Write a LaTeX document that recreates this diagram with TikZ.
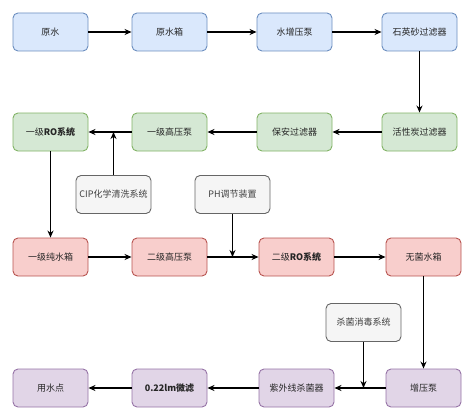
\documentclass[tikz,border=0pt]{standalone}
\usepackage{fontspec}
\setmainfont{Noto Sans CJK SC}
\usepackage{xcolor}
\usetikzlibrary{arrows.meta,positioning}
\definecolor{bluefill}{HTML}{DAE8FC}
\definecolor{bluedraw}{HTML}{6C8EBF}
\definecolor{greenfill}{HTML}{D5E8D4}
\definecolor{greendraw}{HTML}{82B366}
\definecolor{redfill}{HTML}{F8CECC}
\definecolor{reddraw}{HTML}{B85450}
\definecolor{purplefill}{HTML}{E1D5E7}
\definecolor{purpledraw}{HTML}{9673A6}
\definecolor{greyfill}{HTML}{F5F5F5}
\definecolor{greydraw}{HTML}{666666}
\tikzset{%
	process/.style   = {draw, rectangle, rounded corners=5pt, minimum width=75pt, minimum height=38pt, line width=0.9pt, text centered, text=black!85, font=\fontsize{9}{10}\selectfont},
	bluebox/.style   = {process, fill=bluefill, draw=bluedraw},
	greenbox/.style  = {process, fill=greenfill, draw=greendraw},
	redbox/.style    = {process, fill=redfill, draw=reddraw},
	purplebox/.style = {process, fill=purplefill, draw=purpledraw},
	greybox/.style   = {process, fill=greyfill, draw=greydraw, text=black!75},
	arrow/.style     = {line width=1.2pt, -{Stealth[length=7pt,width=6pt]}},
}
\begin{document}
\begin{tikzpicture}[node distance=125pt]
	\useasboundingbox (0,0) rectangle (474pt,-420pt);
	% pretreatment
	\node [bluebox] (ys) at (50.5pt,-32pt) {原水};
	\node [bluebox] (ysx) [right of=ys, node distance=119pt] {原水箱};
	\node [bluebox] (zyb) [right of=ysx] {水增压泵};
	\node [bluebox] (sys) [right of=zyb] {石英砂过滤器};
	\node [greenbox] (hxt) [below of=sys, node distance=100pt] {活性炭过滤器};
	\node [greenbox] (ba) [left of=hxt] {保安过滤器};
	\node [greenbox] (gyb1) [left of=ba] {一级高压泵};
	\node [greenbox] (ro1) [left of=gyb1, node distance=119pt] {一级\textbf{RO系统}};
	% second stage
	\node [redbox] (csx) [below of=ro1, node distance=125pt] {一级纯水箱};
	\node [redbox] (gyb2) [right of=csx, node distance=119pt] {二级高压泵};
	\node [redbox] (ro2) [right of=gyb2, node distance=127pt] {二级\textbf{RO系统}};
	\node [redbox] (wjx) [right of=ro2, node distance=127pt] {无菌水箱};
	\node [purplebox] (zy) [below of=wjx, node distance=131pt] {增压泵};
	\node [purplebox] (zwx) [left of=zy, node distance=127pt] {紫外线杀菌器};
	\node [purplebox] (wl) [left of=zwx, node distance=127pt] {\textbf{0.22lm微滤}};
	\node [purplebox] (ysd) [left of=wl, node distance=119pt] {用水点};
	% side units
	\node [greybox] (cip) at (113.5pt,-194.5pt) {CIP化学清洗系统};
	\node [greybox] (ph) at (232.5pt,-194.5pt) {PH调节装置};
	\node [greybox] (sj) at (363.5pt,-322.5pt) {杀菌消毒系统};
	
	\draw[arrow] (ys) -- (ysx);
	\draw[arrow] (ysx) -- (zyb);
	\draw[arrow] (zyb) -- (sys);
	\draw[arrow] (sys) -- (hxt);
	\draw[arrow] (hxt) -- (ba);
	\draw[arrow] (ba) -- (gyb1);
	\draw[arrow] (gyb1) -- (ro1);
	\draw[arrow] (ro1) -- (csx);
	\draw[arrow] (csx) -- (gyb2);
	\draw[arrow] (gyb2) -- (ro2);
	\draw[arrow] (ro2) -- (wjx);
	\draw[arrow] (wjx) -- (zy);
	\draw[arrow] (zy) -- (zwx);
	\draw[arrow] (zwx) -- (wl);
	\draw[arrow] (wl) -- (ysd);
	\draw[arrow] (cip) -- (cip |- ro1);
	\draw[arrow] (ph) -- (ph |- ro2);
	\draw[arrow] (sj) -- (sj |- zy);
\end{tikzpicture}
\end{document}
